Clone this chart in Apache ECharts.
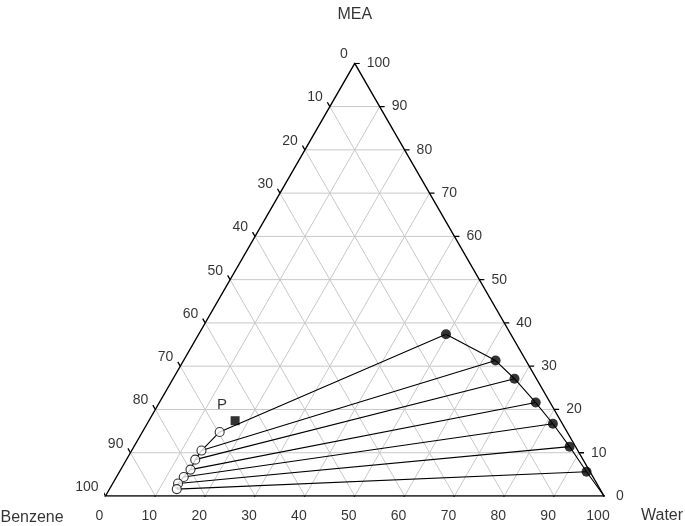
<!DOCTYPE html>
<html>
<head>
<meta charset="utf-8">
<script src="https://cdn.jsdelivr.net/npm/echarts@6/dist/echarts.min.js"></script>
<style>
html,body{margin:0;padding:0;background:#fff;}
#main{width:685px;height:526px;}
</style>
</head>
<body>
<div id="main"></div>
<script>
// ternary data, percent
var tickValues = [0, 10, 20, 30, 40, 50, 60, 70, 80, 90, 100];
// water-rich phase (filled circles)
var waterPhaseWater = [49.6, 62.6, 68.5, 75.5, 81.4, 87.4, 93.7];
var waterPhaseMEA   = [37.4, 31.3, 27.1, 21.6, 16.7, 11.4, 5.6];
// benzene-rich phase (open circles)
var benzPhaseWater = [15.5, 14.0, 13.8, 14.0, 13.5, 13.1, 13.5];
var benzPhaseMEA   = [14.8, 10.5, 8.4, 6.1, 4.4, 2.9, 1.6];
// point P
var pointP = { water: 17.3, mea: 17.4 };

var S = Math.sqrt(3) / 2;
// water, mea -> x, y
function tern(w, m) { return [w + m / 2, m * S]; }

var chart = echarts.init(document.getElementById('main'));

// grid lines
var gridData = [];
for (var k = 10; k <= 90; k += 10) {
  gridData.push(tern(0, k), tern(100 - k, k), '-');
  gridData.push(tern(k, 0), tern(k, 100 - k), '-');
  gridData.push(tern(100 - k, 0), tern(0, 100 - k), '-');
}

// ticks
var tickData = [];
var bottomLabels = [], rightLabels = [], leftLabels = [];
tickValues.forEach(function (v) {
  var p = tern(v, 0);
  tickData.push(p, [p[0] - 0.5, p[1] - S], '-');
  bottomLabels.push([p[0], p[1], String(v)]);
  var r = tern(100 - v, v);
  tickData.push(r, [r[0] + 1, r[1]], '-');
  rightLabels.push([r[0], r[1], String(v)]);
  var l = tern(0, 100 - v);
  tickData.push(l, [l[0] - 0.5, l[1] + S], '-');
  leftLabels.push([l[0], l[1], String(v)]);
});

var tieData = [];
for (var i = 0; i < waterPhaseWater.length; i++) {
  tieData.push(tern(benzPhaseWater[i], benzPhaseMEA[i]), tern(waterPhaseWater[i], waterPhaseMEA[i]), '-');
}
var curveData = [];
for (var i = benzPhaseWater.length - 1; i >= 0; i--) curveData.push(tern(benzPhaseWater[i], benzPhaseMEA[i]));
curveData.push('-');
for (var i = 0; i < waterPhaseWater.length; i++) curveData.push(tern(waterPhaseWater[i], waterPhaseMEA[i]));
curveData.push(tern(100, 0));

var filledPts = waterPhaseWater.map(function (w, i) { return tern(w, waterPhaseMEA[i]); });
var openPts = benzPhaseWater.map(function (w, i) { return tern(w, benzPhaseMEA[i]); });

function textSeries(data, align, offset, size) {
  return {
    type: 'scatter', data: data, symbolSize: 0.1, silent: true,
    itemStyle: { color: 'transparent' },
    label: {
      show: true, position: 'inside', align: align, verticalAlign: 'middle',
      offset: offset, color: '#000', fontSize: size || 14,
      fontFamily: 'Liberation Sans, Arial, sans-serif',
      formatter: function (p) { return p.value[2]; }
    }
  };
}
function lineSeries(data, color, width) {
  return {
    type: 'line', data: data, symbol: 'none', silent: true, connectNulls: false,
    animation: false, lineStyle: { color: color, width: width }
  };
}

chart.setOption({
  animation: false,
  grid: { left: 105.5, right: 81, top: 63.3, bottom: 30 },
  xAxis: { type: 'value', min: 0, max: 100, show: false },
  yAxis: { type: 'value', min: 0, max: 100 * S, show: false },
  series: [
    lineSeries(gridData, '#c8c8c8', 1),
    lineSeries([tern(0, 0), tern(100, 0), tern(0, 100), tern(0, 0)], '#000', 1.4),
    lineSeries(tickData, '#000', 1.3),
    lineSeries(tieData, '#000', 1.1),
    lineSeries(curveData, '#000', 1.1),
    {
      type: 'scatter', data: filledPts, symbol: 'circle', symbolSize: 10,
      itemStyle: { color: '#000' }, z: 5
    },
    {
      type: 'scatter', data: openPts, symbol: 'circle', symbolSize: 9,
      itemStyle: { color: '#fff', borderColor: '#000', borderWidth: 1.1 }, z: 5
    },
    {
      type: 'scatter', data: [tern(pointP.water, pointP.mea)], symbol: 'rect', symbolSize: 9,
      itemStyle: { color: '#000' }, z: 5,
      label: { show: true, position: 'inside', offset: [-13, -16], formatter: 'P',
        color: '#000', fontSize: 15, fontFamily: 'Liberation Sans, Arial, sans-serif' }
    },
    textSeries(bottomLabels, 'center', [-6, 20]),
    textSeries(rightLabels, 'left', [12, 0]),
    textSeries(leftLabels, 'right', [-7, -9]),
    textSeries([[50, 100 * S, 'MEA']], 'center', [0, -49], 16),
    textSeries([[0, 0, 'Benzene']], 'left', [-105, 22], 16),
    textSeries([[100, 0, 'Water']], 'left', [37, 20], 16)
  ]
});
window.onresize = chart.resize;
</script>
</body>
</html>
